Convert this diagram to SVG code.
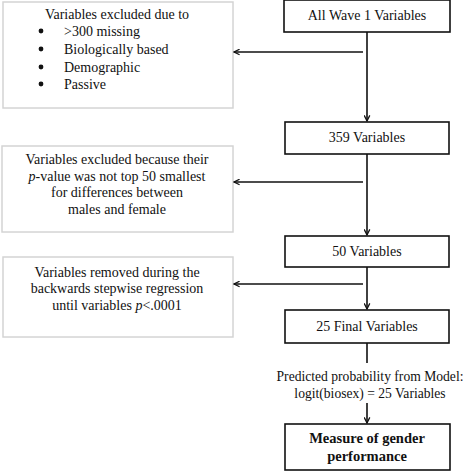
<svg xmlns="http://www.w3.org/2000/svg" width="474" height="473" viewBox="0 0 474 473">
<defs>
<style>
text{font-family:'Liberation Serif','Times New Roman','DejaVu Serif',serif;font-size:14px;fill:#111}
.c{text-anchor:middle}
.b{font-weight:bold;font-size:14.5px}
.m{font-size:13.6px}
.side{fill:#fff;stroke:#d4d4d4;stroke-width:1.5}
.main{fill:#fff;stroke:#111;stroke-width:1.6}
.conn line{stroke:#111;stroke-width:1.6}
</style>
<marker id="arr" viewBox="0 0 10 10" refX="9" refY="5" markerWidth="7" markerHeight="7" markerUnits="userSpaceOnUse" orient="auto">
<path d="M1,1 L9,5 L1,9" fill="none" stroke="#111" stroke-width="1.8"/>
</marker>
</defs>
<rect width="474" height="473" fill="#fff"/>
<g id="excl1">
<rect class="side" x="3" y="2" width="230" height="106"/>
<text class="c" x="117" y="19">Variables excluded due to</text>
<circle cx="41" cy="31" r="2.4" fill="#111"/>
<circle cx="41" cy="49" r="2.4" fill="#111"/>
<circle cx="41" cy="67" r="2.4" fill="#111"/>
<circle cx="41" cy="84" r="2.4" fill="#111"/>
<text x="64" y="36">&gt;300 missing</text>
<text x="64" y="54">Biologically based</text>
<text x="64" y="72">Demographic</text>
<text x="64" y="89">Passive</text>
</g>
<g id="excl2">
<rect class="side" x="2" y="146" width="231" height="86"/>
<text class="c" x="117" y="164">Variables excluded because their</text>
<text class="c" x="117" y="181"><tspan font-style="italic">p</tspan>-value was not top 50 smallest</text>
<text class="c" x="117" y="197">for differences between</text>
<text class="c" x="117" y="214">males and female</text>
</g>
<g id="excl3">
<rect class="side" x="3" y="257" width="230" height="80"/>
<text class="c" x="117" y="277">Variables removed during the</text>
<text class="c" x="117" y="293">backwards stepwise regression</text>
<text class="c" x="117" y="310">until variables <tspan font-style="italic">p</tspan>&lt;.0001</text>
</g>
<g id="all">
<rect class="main" x="284" y="0" width="166" height="32"/>
<text class="c" x="367" y="20">All Wave 1 Variables</text>
</g>
<g id="v359">
<rect class="main" x="285" y="122" width="164" height="32"/>
<text class="c" x="367" y="142">359 Variables</text>
</g>
<g id="v50">
<rect class="main" x="285" y="236" width="164" height="31"/>
<text class="c" x="367" y="256">50 Variables</text>
</g>
<g id="v25">
<rect class="main" x="285" y="310" width="164" height="33"/>
<text class="c" x="367" y="331">25 Final Variables</text>
</g>
<g id="model">
<text class="c m" x="370" y="381">Predicted probability from Model:</text>
<text class="c m" x="370" y="398">logit(biosex) = 25 Variables</text>
</g>
<g id="measure">
<rect class="main" x="285" y="424" width="165" height="46"/>
<text class="c b" x="367" y="443">Measure of gender</text>
<text class="c b" x="367" y="461">performance</text>
</g>
<g class="conn" id="connectors">
<line x1="367" y1="32" x2="367" y2="121" marker-end="url(#arr)"/>
<line x1="363" y1="52" x2="234" y2="52" marker-end="url(#arr)"/>
<line x1="367" y1="154" x2="367" y2="235" marker-end="url(#arr)"/>
<line x1="363" y1="182" x2="234" y2="182" marker-end="url(#arr)"/>
<line x1="367" y1="267" x2="367" y2="309" marker-end="url(#arr)"/>
<line x1="363" y1="284" x2="234" y2="284" marker-end="url(#arr)"/>
<line x1="367" y1="343" x2="367" y2="363"/>
<line x1="367" y1="403" x2="367" y2="423" marker-end="url(#arr)"/>
</g>
</svg>
